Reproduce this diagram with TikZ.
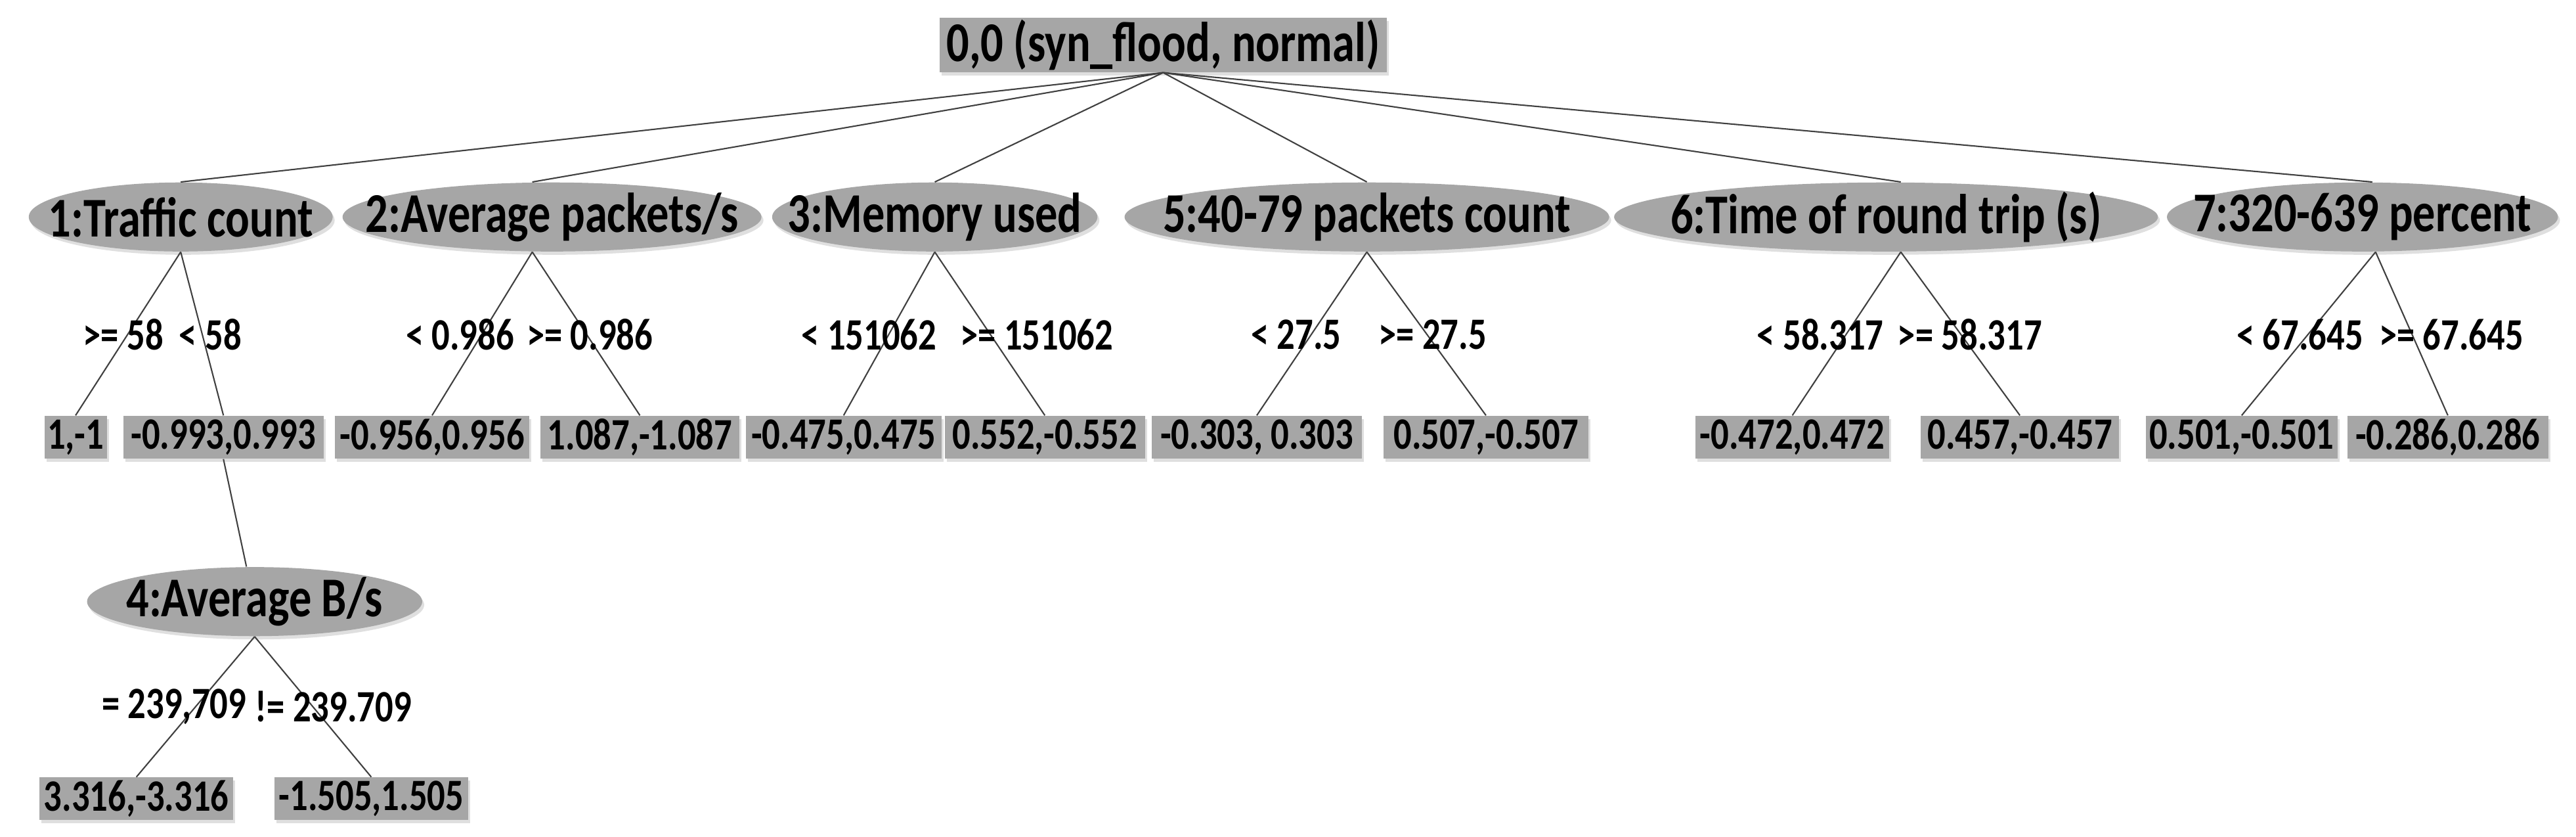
\documentclass[tikz,border=0pt]{standalone}
\usepackage{fontspec}
\newfontfamily\cf[FakeStretch=0.8]{Carlito}
\usetikzlibrary{shapes.geometric,shadows}
\definecolor{nodegray}{HTML}{A6A6A6}
\begin{document}
\begin{tikzpicture}[x=0.025cm,y=-0.025cm,
  big/.style={font=\cf\bfseries\fontsize{24.3}{28}\selectfont},
  small/.style={font=\cf\bfseries\fontsize{19.4}{22}\selectfont},
  shd/.style={drop shadow={opacity=0.25,shadow xshift=0.03cm,shadow yshift=-0.05cm}},
  rootbox/.style={big,fill=nodegray,rectangle,minimum width=6.8cm,minimum height=0.825cm,inner sep=0pt,shd},
  feat/.style={fill=nodegray,ellipse,minimum width=#1*0.025cm,minimum height=1.05cm,inner sep=0pt,shd},
  leaf/.style={small,fill=nodegray,rectangle,minimum width=#1*0.025cm,minimum height=0.65cm,inner sep=0pt,shd},
  cond/.style={small,inner sep=0pt},
  conn/.style={draw=black!75,line width=0.6pt}]
\useasboundingbox (0,0) rectangle (1568,509);
% root
\node[rootbox] (root) at (708,27.4) {0,0 (syn\_flood, normal)};
% features
\node[feat=185,label={[big]center:{1:Traffic count}}] (e1) at (110,132) {};
\node[feat=255,label={[big]center:{2:Average packets/s}}] (e2) at (336,132) {};
\node[feat=198,label={[big]center:{3:Memory used}}] (e3) at (569,132) {};
\node[feat=295,label={[big]center:{5:40-79 packets count}}] (e5) at (832,132) {};
\node[feat=331,label={[big]center:{6:Time of round trip (s)}}] (e6) at (1148,132) {};
\node[feat=238,label={[big]center:{7:320-639 percent}}] (e7) at (1438,132) {};
\node[feat=204,label={[big]center:{4:Average B/s}}] (e4) at (155,366) {};
% leaves
\node[leaf=38]  (l1a) at (46,266) {1,-1};
\node[leaf=122] (l1b) at (136,266) {-0.993,0.993};
\node[leaf=118] (l2a) at (263,266) {-0.956,0.956};
\node[leaf=121] (l2b) at (389.5,266) {1.087,-1.087};
\node[leaf=119] (l3a) at (513.5,266) {-0.475,0.475};
\node[leaf=122] (l3b) at (636,266) {0.552,-0.552};
\node[leaf=128] (l5a) at (765,266) {-0.303, 0.303};
\node[leaf=125] (l5b) at (904.5,266) {0.507,-0.507};
\node[leaf=118] (l6a) at (1091,266) {-0.472,0.472};
\node[leaf=121] (l6b) at (1229.5,266) {0.457,-0.457};
\node[leaf=117] (l7a) at (1364.5,266) {0.501,-0.501};
\node[leaf=122] (l7b) at (1490,266) {-0.286,0.286};
\node[leaf=118] (l4a) at (83,486) {3.316,-3.316};
\node[leaf=118] (l4b) at (226,486) {-1.505,1.505};
% connectors root -> features
\draw[conn] (root.south) -- (e1.north);
\draw[conn] (root.south) -- ([xshift=-0.3cm]e2.north);
\draw[conn] (root.south) -- (e3.north);
\draw[conn] (root.south) -- (e5.north);
\draw[conn] (root.south) -- ([xshift=0.225cm]e6.north);
\draw[conn] (root.south) -- ([xshift=0.15cm]e7.north);
% features -> leaves
\draw[conn] (e1.south) -- (l1a.north);
\draw[conn] (e1.south) -- (l1b.north);
\draw[conn] ([xshift=-0.3cm]e2.south) -- (l2a.north);
\draw[conn] ([xshift=-0.3cm]e2.south) -- (l2b.north);
\draw[conn] (e3.south) -- (l3a.north);
\draw[conn] (e3.south) -- (l3b.north);
\draw[conn] (e5.south) -- (l5a.north);
\draw[conn] (e5.south) -- (l5b.north);
\draw[conn] ([xshift=0.225cm]e6.south) -- (l6a.north);
\draw[conn] ([xshift=0.225cm]e6.south) -- (l6b.north);
\draw[conn] ([xshift=0.2cm]e7.south) -- (l7a.north);
\draw[conn] ([xshift=0.2cm]e7.south) -- (l7b.north);
\draw[conn] (l1b.south) -- ([xshift=-0.125cm]e4.north);
\draw[conn] (e4.south) -- (l4a.north);
\draw[conn] (e4.south) -- (l4b.north);
% condition labels
\node[cond] (c1a) at (75,203.5) {>= 58};
\node[cond] (c1b) at (128,203.5) {< 58};
\node[cond] (c2a) at (280,203.5) {< 0.986};
\node[cond] (c2b) at (359,203.5) {>= 0.986};
\node[cond] (c3a) at (529,203.5) {< 151062};
\node[cond] (c3b) at (631,203.5) {>= 151062};
\node[cond] (c5a) at (789,203.5) {< 27.5};
\node[cond] (c5b) at (872,203.5) {>= 27.5};
\node[cond] (c6a) at (1108,203.5) {< 58.317};
\node[cond] (c6b) at (1199,203.5) {>= 58.317};
\node[cond] (c7a) at (1400,203.5) {< 67.645};
\node[cond] (c7b) at (1492,203.5) {>= 67.645};
\node[cond] (c4a) at (106,430) {= 239,709};
\node[cond] (c4b) at (203,430) {!= 239.709};
\end{tikzpicture}
\end{document}
